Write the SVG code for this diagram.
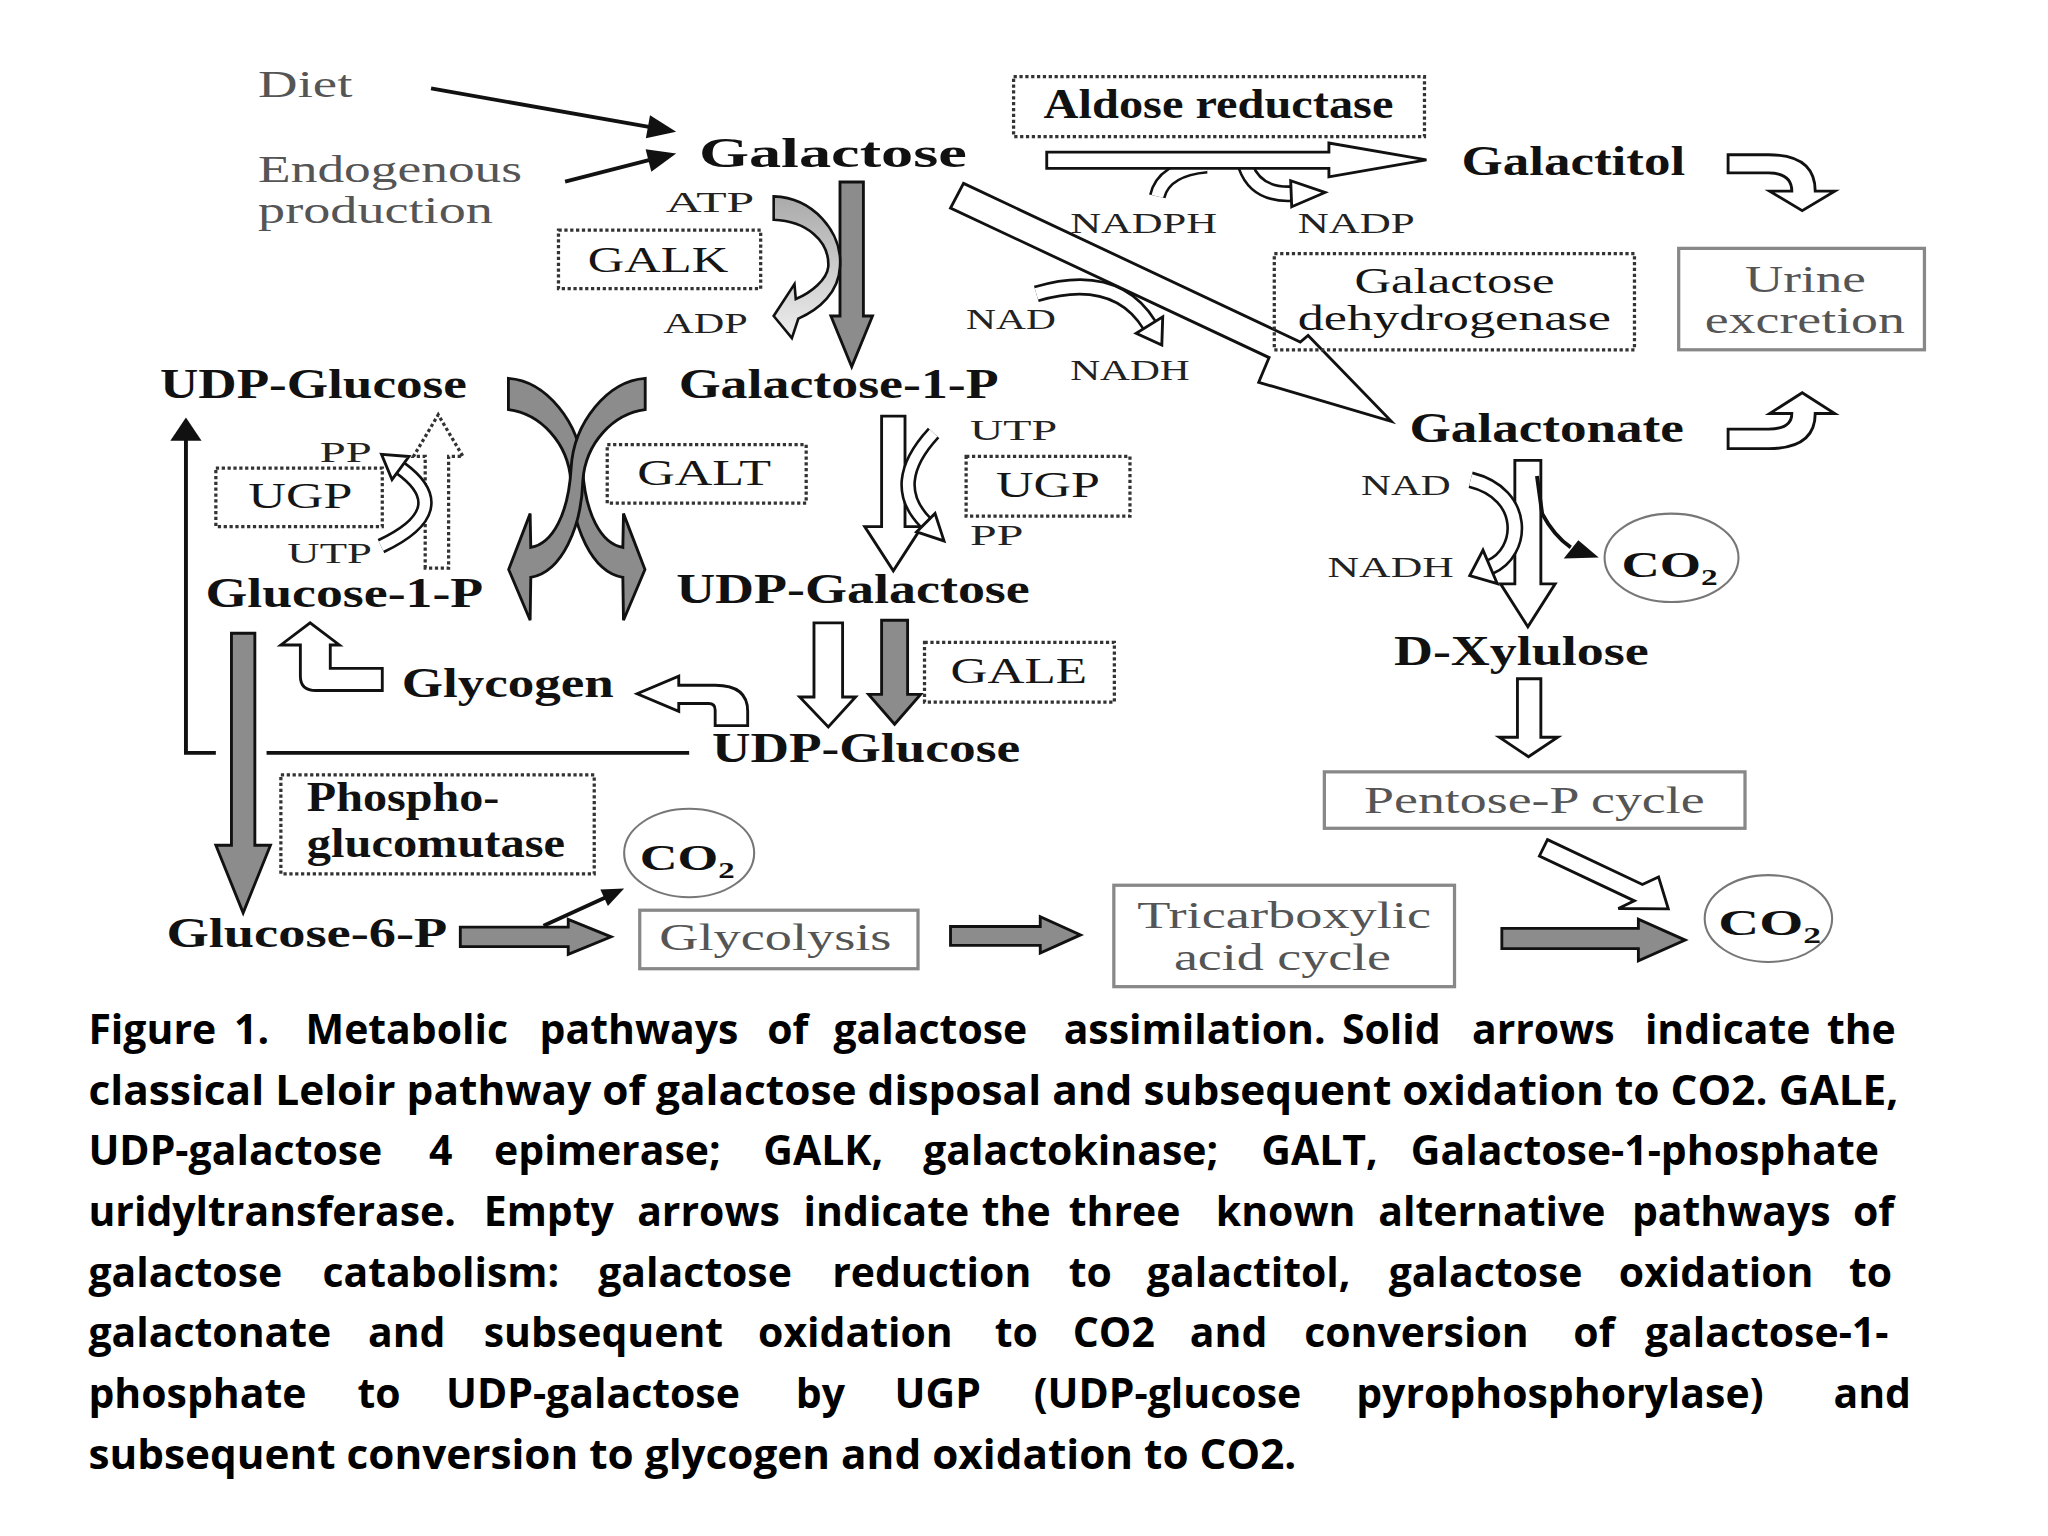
<svg xmlns="http://www.w3.org/2000/svg" width="2048" height="1536" viewBox="0 0 2048 1536">
<style>
text{font-family:"Liberation Serif","Times New Roman",serif;}
.m{font-weight:bold;font-size:32px;fill:#111}
.s{font-size:22px;fill:#222}
.e{font-size:27px;fill:#151515}
.g{font-size:28.5px;fill:#555}
.co{font-weight:bold;font-size:27px;fill:#111}
.cap{font-family:"Open Sans",Lato,"Liberation Sans",sans-serif;font-weight:bold;font-size:31.5px;fill:#000}
.dot{fill:none;stroke:#333;stroke-width:2.5;stroke-dasharray:2.5 2}
.box{fill:none;stroke:#888;stroke-width:2.5}
.ell{fill:none;stroke:#777;stroke-width:1.6}
.gr{fill:#8c8c8c;stroke:#111;stroke-width:2.2;stroke-linejoin:miter}
.ho{fill:#fff;stroke:#111;stroke-width:2.2;stroke-linejoin:miter}
.ln{fill:none;stroke:#111;stroke-width:3}
.hd{fill:#111}
.ol{fill:none;stroke:#111;stroke-width:13}
.wl{fill:none;stroke:#fff;stroke-width:9}
.ol2{fill:none;stroke:#111;stroke-width:12}
.wl2{fill:none;stroke:#fff;stroke-width:8}
</style>
<defs>
  <linearGradient id="atpg" gradientUnits="userSpaceOnUse" x1="0" y1="150" x2="0" y2="262">
    <stop offset="0" stop-color="#a9a9a9"/>
    <stop offset="1" stop-color="#efefef"/>
  </linearGradient>
</defs>
<rect width="2048" height="1536" fill="#fff"/>
<g transform="scale(1.3003)">
<g id="connectors">
  <!-- inputs -->
  <path class="ln" d="M331.5,68 L499,97.6"/>
  <polygon class="hd" points="496.7,106.4 520,101.3 499.9,88.6"/>
  <path class="ln" d="M434.6,139.7 L499,123.2"/>
  <polygon class="hd" points="500.9,132.1 520,118 496.5,114.7"/>
  <!-- Galactose -> Galactose-1-P (GALK) -->
  <path class="gr" d="M646,140 H664 V243 H671 L655,282 L639,243 H646 Z"/>
  <path d="M595,151 C625,152 648,178 646,205 C645,225 630,238 614,245 L609,260 L595,243 L611,218.5 L612,230 C624,225 636,215 637,205 C638,185 620,170 595,169 Z" fill="url(#atpg)" stroke="#111" stroke-width="2"/>
  <!-- aldose reductase -->
  <path class="ol" d="M890,151 Q895,130 928,127"/>
  <path class="wl" d="M890,151 Q895,130 928,127"/>
  <path class="ol" d="M958,128 Q966,150 993,149"/>
  <path class="wl" d="M958,128 Q966,150 993,149"/>
  <polygon class="ho" points="993.4,159 1019,148 992.6,139"/>
  <path class="ho" d="M805,117 H1022 V110 L1097,123 L1022,136 V129.5 H805 Z"/>
  <!-- galactose dehydrogenase -->
  <path class="ol" d="M797,226 Q858,208 884,250"/>
  <path class="wl" d="M797,226 Q858,208 884,250"/>
  <polygon class="ho" points="894.2,243.7 893.5,265.3 873.8,256.3"/>
  <path class="ho" d="M741,141 L1000,263 L1006,258 L1070,324 L968,294 L976,275 L731,160 Z"/>
  <!-- urine hooks -->
  <path class="ho" d="M1329,119 H1360 Q1396,119 1396,147 H1411 L1386,162 L1361,147 H1378 Q1378,133 1360,133 H1329 Z"/>
  <path class="ho" d="M1329,330 H1360 Q1378,330 1378,318 H1361 L1386,302 L1411,318 H1396 Q1396,345 1360,345 H1329 Z"/>
  <!-- galactonate -> D-xylulose -->
  <path class="ho" d="M1165,354 H1185 V449 H1196 L1175,482 L1154,449 H1165 Z"/>
  <path class="ol" d="M1131,369 C1175,380 1172,425 1146,436"/>
  <path class="wl" d="M1131,369 C1175,380 1172,425 1146,436"/>
  <polygon class="ho" points="1151.5,448.9 1130.3,442.6 1140.5,423.1"/>
  <path class="ln" d="M1182,366 L1186,395 Q1195,412 1208,421"/>
  <polygon class="hd" points="1213.8,415.4 1229.5,428.7 1202.6,429.5"/>
  <!-- xylulose -> pentose -> CO2 -->
  <path class="ho" d="M1167,522 H1185 V567 H1198 L1175.5,582 L1153,567 H1167 Z"/>
  <path class="ho" d="M1190.1,645.7 L1263.1,680.2 L1275.5,674.4 L1283,699 L1244.6,698.7 L1256.9,692.8 L1183.9,658.3 Z"/>
  <!-- bottom row -->
  <path class="gr" d="M1155,714 H1260 V707 L1296,723 L1260,739 V729.5 H1155 Z"/>
  <path class="gr" d="M731,712.5 H800 V705 L831,719 L800,733 V727 H731 Z"/>
  <path class="gr" d="M354,713 H437 V707 L470,720.5 L437,734 V728 H354 Z"/>
  <path class="ln" d="M418,712 L466,690"/>
  <polygon class="hd" points="467.5,696.8 480,683.3 461.7,684"/>
  <!-- Glucose-1-P -> Glucose-6-P -->
  <path class="gr" d="M178,487 H196 V650 H208 L187,702 L166,650 H178 Z"/>
  <!-- UDP-Glucose feedback line -->
  <path class="ln" d="M530,579 H205"/>
  <path class="ln" d="M166,579 H143 V336" stroke-linejoin="miter"/>
  <polygon class="hd" points="131,339 143,321 155,339"/>
  <!-- left UGP -->
  <path class="dot" d="M327,437 V351 H318 L337,319 L356,351 H345 V437 Z"/>
  <path class="ol2" d="M293,420 Q352,392 308,360"/>
  <path class="wl2" d="M293,420 Q352,392 308,360"/>
  <polygon class="ho" points="314.5,351.1 293.4,349.4 301.5,368.9"/>
  <!-- GALT cross -->
  <path class="gr" d="M391,291 C420,293 446,325 448,360 C450,395 462,418 479,421 L479.5,395 L496,438 L479.5,477 L479,444 C455,440 440,405 439,370 C437,340 415,318 391,315 Z"/>
  <path class="gr" d="M496.2,291 C467.2,293 441.2,325 439.2,360 C437.2,395 425.2,418 408.2,421 L407.7,395 L391.2,438 L407.7,477 L408.2,444 C432.2,440 447.2,405 448.2,370 C450.2,340 472.2,318 496.2,315 Z"/>
  <!-- right UGP -->
  <path class="ho" d="M678,320 H696 V405 H709 L687,439 L665,405 H678 Z"/>
  <path class="ol2" d="M718,333 Q682,372 712,402"/>
  <path class="wl2" d="M718,333 Q682,372 712,402"/>
  <polygon class="ho" points="719.1,394.9 726,416 704.9,409.1"/>
  <!-- GALE -->
  <path class="ho" d="M626,479 H648 V536 H658 L637,559 L615,536 H626 Z"/>
  <path class="gr" d="M678,477 H698 V534 H708 L688,557 L668,534 H678 Z"/>
  <!-- glycogen hooks -->
  <path class="ho" d="M575,558 V547 Q575,527 550,527 H522 V520 L490,533.5 L522,547 V541 H545 Q550,541 550,546 V558 Z"/>
  <path class="ho" d="M294,514 H254 V496 H261 L238.5,479 L216,496 H231 V520 Q231,531 243,531 H294 Z"/>
</g>

<g id="diet"><text x="198.5" y="74.4" class="g" textLength="72.5" lengthAdjust="spacingAndGlyphs">Diet</text></g>
<g id="endogenous">
  <text x="198.5" y="139.7" class="g" textLength="203" lengthAdjust="spacingAndGlyphs">Endogenous</text>
  <text x="198.5" y="171.8" class="g" textLength="180.5" lengthAdjust="spacingAndGlyphs">production</text>
</g>
<g id="galactose"><text x="537.5" y="128.2" class="m" font-size="35" textLength="206" lengthAdjust="spacingAndGlyphs">Galactose</text></g>
<g id="galk">
  <rect class="dot" x="429.5" y="177" width="155.5" height="45"/>
  <text x="452" y="209" class="e" textLength="108" lengthAdjust="spacingAndGlyphs">GALK</text>
  <text x="512" y="162.8" class="s" textLength="68" lengthAdjust="spacingAndGlyphs">ATP</text>
  <text x="510" y="256.4" class="s" textLength="65" lengthAdjust="spacingAndGlyphs">ADP</text>
</g>
<g id="udp-glucose-top"><text x="123" y="306" class="m" textLength="236" lengthAdjust="spacingAndGlyphs">UDP-Glucose</text></g>
<g id="galactose-1-p"><text x="522" y="306" class="m" textLength="246" lengthAdjust="spacingAndGlyphs">Galactose-1-P</text></g>
<g id="aldose-reductase">
  <rect class="dot" x="779.5" y="59" width="316" height="46"/>
  <text x="802.6" y="91" class="m" font-size="26" textLength="269" lengthAdjust="spacingAndGlyphs">Aldose reductase</text>
  <text x="823" y="179.5" class="s" textLength="113" lengthAdjust="spacingAndGlyphs">NADPH</text>
  <text x="998" y="179.5" class="s" textLength="90" lengthAdjust="spacingAndGlyphs">NADP</text>
</g>
<g id="galactitol"><text x="1124" y="134.6" class="m" textLength="172" lengthAdjust="spacingAndGlyphs">Galactitol</text></g>
<g id="galactose-dehydrogenase">
  <rect class="dot" x="980" y="195" width="277" height="74"/>
  <text x="1041.6" y="225.6" class="e" font-size="25" textLength="154" lengthAdjust="spacingAndGlyphs">Galactose</text>
  <text x="998" y="253.8" class="e" font-size="25" textLength="241" lengthAdjust="spacingAndGlyphs">dehydrogenase</text>
  <text x="743" y="253" class="s" textLength="69" lengthAdjust="spacingAndGlyphs">NAD</text>
  <text x="823" y="292.3" class="s" textLength="92" lengthAdjust="spacingAndGlyphs">NADH</text>
</g>
<g id="urine-excretion">
  <rect class="box" x="1291" y="191" width="189" height="78"/>
  <text x="1342" y="224.4" class="g" textLength="93" lengthAdjust="spacingAndGlyphs">Urine</text>
  <text x="1311" y="256.4" class="g" textLength="154" lengthAdjust="spacingAndGlyphs">excretion</text>
</g>
<g id="galactonate"><text x="1084" y="340" class="m" textLength="211" lengthAdjust="spacingAndGlyphs">Galactonate</text></g>
<g id="ugp-right">
  <rect class="dot" x="743" y="351" width="126" height="46"/>
  <text x="766" y="382" class="e" textLength="80" lengthAdjust="spacingAndGlyphs">UGP</text>
  <text x="746" y="338.5" class="s" textLength="67" lengthAdjust="spacingAndGlyphs">UTP</text>
  <text x="746" y="419" class="s" textLength="41" lengthAdjust="spacingAndGlyphs">PP</text>
</g>
<g id="ugp-left">
  <rect class="dot" x="166" y="360" width="128" height="45"/>
  <text x="191" y="391" class="e" textLength="80" lengthAdjust="spacingAndGlyphs">UGP</text>
  <text x="246" y="355" class="s" textLength="40" lengthAdjust="spacingAndGlyphs">PP</text>
  <text x="221" y="433" class="s" textLength="65" lengthAdjust="spacingAndGlyphs">UTP</text>
</g>
<g id="galt">
  <rect class="dot" x="467" y="342" width="153" height="45"/>
  <text x="490" y="373" class="e" textLength="103" lengthAdjust="spacingAndGlyphs">GALT</text>
</g>
<g id="glucose-1-p"><text x="158" y="466.7" class="m" textLength="213.6" lengthAdjust="spacingAndGlyphs">Glucose-1-P</text></g>
<g id="udp-galactose"><text x="520" y="464" class="m" textLength="272" lengthAdjust="spacingAndGlyphs">UDP-Galactose</text></g>
<g id="gale">
  <rect class="dot" x="711" y="494" width="146" height="46"/>
  <text x="731" y="525.6" class="e" textLength="105" lengthAdjust="spacingAndGlyphs">GALE</text>
</g>
<g id="glycogen"><text x="309" y="536" class="m" textLength="163" lengthAdjust="spacingAndGlyphs">Glycogen</text></g>
<g id="udp-glucose-bottom"><text x="547.5" y="586" class="m" textLength="237" lengthAdjust="spacingAndGlyphs">UDP-Glucose</text></g>
<g id="galactonate-cofactors">
  <text x="1046.7" y="380.8" class="s" textLength="69" lengthAdjust="spacingAndGlyphs">NAD</text>
  <text x="1021" y="443.6" class="s" textLength="97" lengthAdjust="spacingAndGlyphs">NADH</text>
</g>
<g id="co2-upper">
  <ellipse class="ell" cx="1285.5" cy="429" rx="51.5" ry="34"/>
  <text x="1247" y="444" class="co" textLength="74" lengthAdjust="spacingAndGlyphs">CO<tspan font-size="17" dy="6">2</tspan></text>
</g>
<g id="d-xylulose"><text x="1072" y="511.5" class="m" textLength="196" lengthAdjust="spacingAndGlyphs">D-Xylulose</text></g>
<g id="pentose-p-cycle">
  <rect class="box" x="1018.5" y="593.6" width="323.5" height="43.4"/>
  <text x="1049" y="625.6" class="g" textLength="262" lengthAdjust="spacingAndGlyphs">Pentose-P cycle</text>
</g>
<g id="tca">
  <rect class="box" x="856.6" y="680.8" width="262" height="78"/>
  <text x="874.6" y="714" class="g" textLength="226" lengthAdjust="spacingAndGlyphs">Tricarboxylic</text>
  <text x="902.8" y="746" class="g" textLength="167" lengthAdjust="spacingAndGlyphs">acid cycle</text>
</g>
<g id="co2-right">
  <ellipse class="ell" cx="1360" cy="706.4" rx="49" ry="33.4"/>
  <text x="1321.5" y="719" class="co" textLength="79" lengthAdjust="spacingAndGlyphs">CO<tspan font-size="17" dy="6">2</tspan></text>
</g>
<g id="glycolysis">
  <rect class="box" x="492" y="700" width="214" height="45"/>
  <text x="507" y="730.8" class="g" textLength="178.6" lengthAdjust="spacingAndGlyphs">Glycolysis</text>
</g>
<g id="glucose-6-p"><text x="128" y="728" class="m" textLength="216" lengthAdjust="spacingAndGlyphs">Glucose-6-P</text></g>
<g id="phosphoglucomutase">
  <rect class="dot" x="216" y="596" width="241" height="76"/>
  <text x="236" y="624" class="m" font-size="23" textLength="148" lengthAdjust="spacingAndGlyphs">Phospho-</text>
  <text x="236" y="659" class="m" font-size="23" textLength="198.5" lengthAdjust="spacingAndGlyphs">glucomutase</text>
</g>
<g id="co2-left">
  <ellipse class="ell" cx="530" cy="656" rx="50" ry="34"/>
  <text x="492" y="669" class="co" textLength="73" lengthAdjust="spacingAndGlyphs">CO<tspan font-size="17" dy="6">2</tspan></text>
</g>

<g id="caption">
  <text class="cap" y="803"><tspan x="68">Figure</tspan><tspan x="180">1.</tspan><tspan x="235">Metabolic</tspan><tspan x="415">pathways</tspan><tspan x="590">of</tspan><tspan x="641">galactose</tspan><tspan x="818">assimilation.</tspan><tspan x="1032">Solid</tspan><tspan x="1132">arrows</tspan><tspan x="1265">indicate</tspan><tspan x="1405">the</tspan></text>
  <text class="cap" x="68" y="850" textLength="1392" lengthAdjust="spacingAndGlyphs">classical Leloir pathway of galactose disposal and subsequent oxidation to CO2. GALE,</text>
  <text class="cap" y="896"><tspan x="68">UDP-galactose</tspan><tspan x="330">4</tspan><tspan x="380">epimerase;</tspan><tspan x="587">GALK,</tspan><tspan x="710">galactokinase;</tspan><tspan x="970">GALT,</tspan><tspan x="1085">Galactose-1-phosphate</tspan></text>
  <text class="cap" y="943"><tspan x="68">uridyltransferase.</tspan><tspan x="372">Empty</tspan><tspan x="490">arrows</tspan><tspan x="618">indicate</tspan><tspan x="755">the</tspan><tspan x="822">three</tspan><tspan x="935">known</tspan><tspan x="1060">alternative</tspan><tspan x="1255">pathways</tspan><tspan x="1425">of</tspan></text>
  <text class="cap" y="990"><tspan x="68">galactose</tspan><tspan x="248">catabolism:</tspan><tspan x="460">galactose</tspan><tspan x="640">reduction</tspan><tspan x="822">to</tspan><tspan x="882">galactitol,</tspan><tspan x="1068">galactose</tspan><tspan x="1245">oxidation</tspan><tspan x="1422">to</tspan></text>
  <text class="cap" y="1036"><tspan x="68">galactonate</tspan><tspan x="283">and</tspan><tspan x="372">subsequent</tspan><tspan x="583">oxidation</tspan><tspan x="765">to</tspan><tspan x="825">CO2</tspan><tspan x="915">and</tspan><tspan x="1003">conversion</tspan><tspan x="1210">of</tspan><tspan x="1265">galactose-1-</tspan></text>
  <text class="cap" y="1083"><tspan x="68">phosphate</tspan><tspan x="275">to</tspan><tspan x="343">UDP-galactose</tspan><tspan x="612">by</tspan><tspan x="688">UGP</tspan><tspan x="795">(UDP-glucose</tspan><tspan x="1043">pyrophosphorylase)</tspan><tspan x="1410">and</tspan></text>
  <text class="cap" x="68" y="1130" textLength="929" lengthAdjust="spacingAndGlyphs">subsequent conversion to glycogen and oxidation to CO2.</text>
</g>
</g>
</svg>
